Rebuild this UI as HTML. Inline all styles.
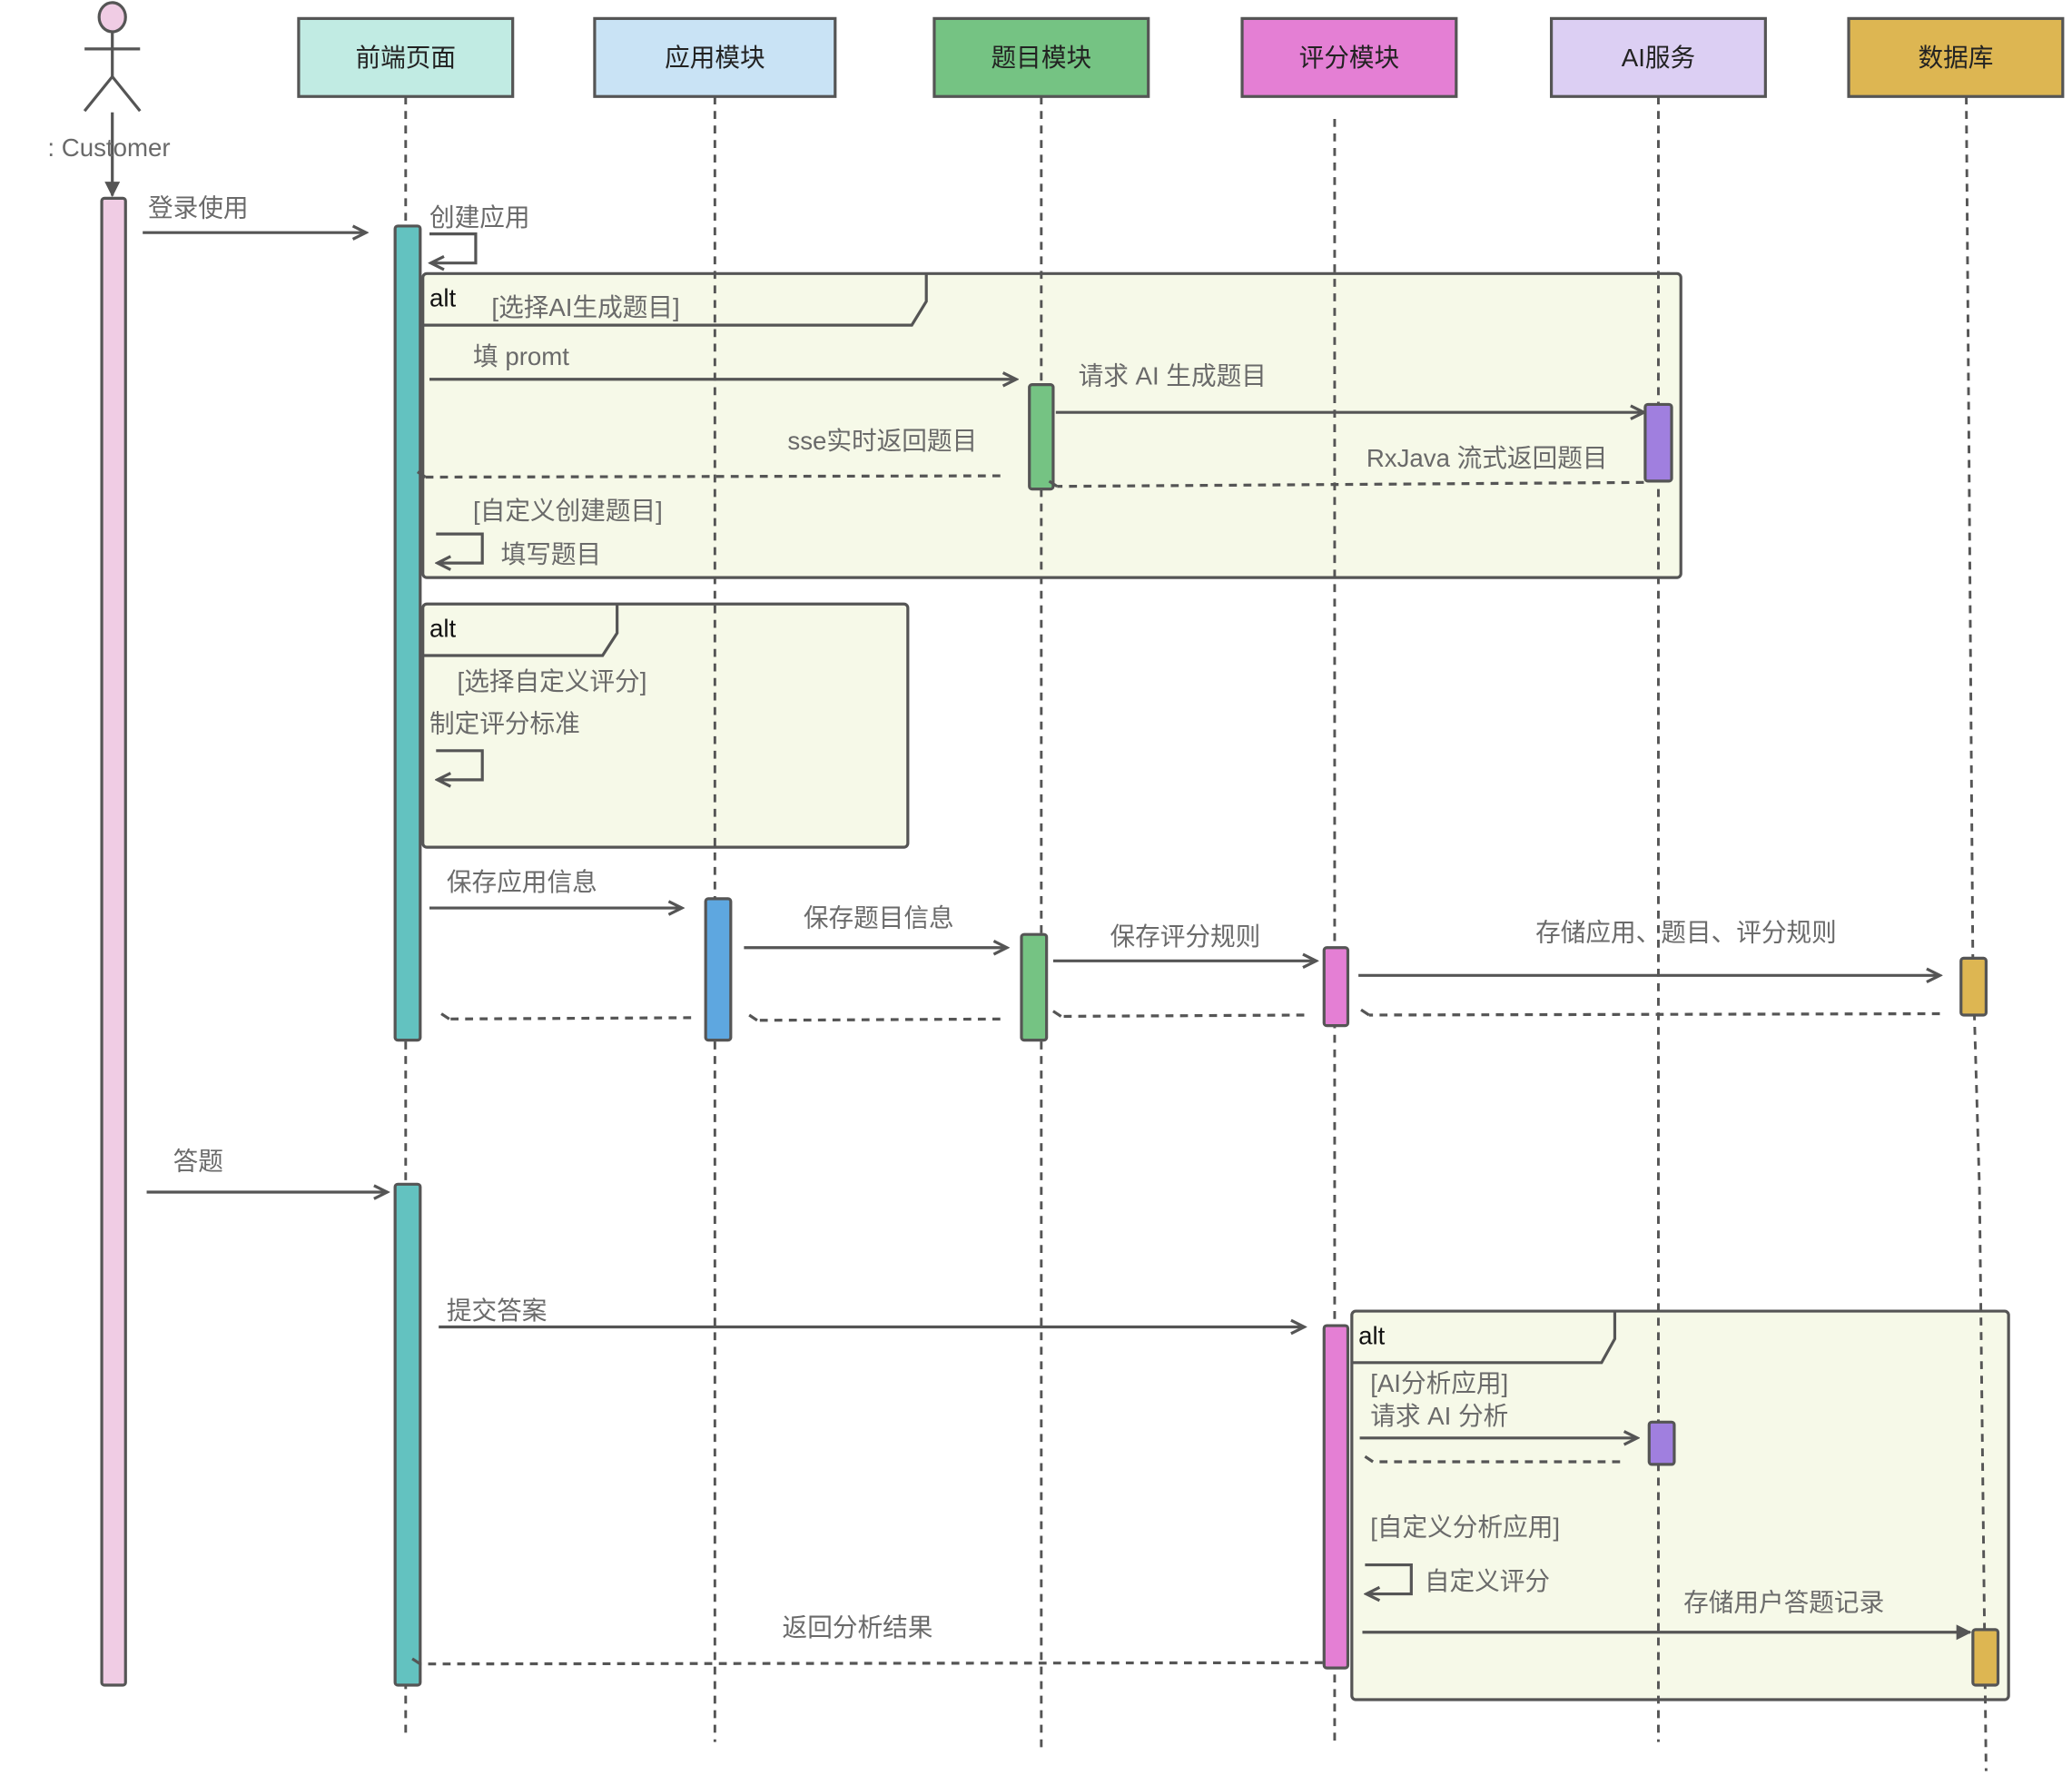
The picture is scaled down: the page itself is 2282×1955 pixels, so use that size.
<!DOCTYPE html>
<html><head><meta charset="utf-8"><style>
html,body{margin:0;padding:0;background:#fff}
svg{display:block}
text{font-family:"Liberation Sans","Noto Sans CJK SC",sans-serif;font-size:19px;fill:#6a6a6a}
.h{fill:#222;font-size:19px}
.a{fill:#111;font-size:19px}
</style></head><body>
<svg width="2282" height="1955" viewBox="0 0 1568 1343" preserveAspectRatio="none" xmlns="http://www.w3.org/2000/svg">
<defs>
<marker id="ar" markerWidth="14" markerHeight="14" refX="12" refY="7" orient="auto" markerUnits="userSpaceOnUse">
<polyline points="2,2 12,7 2,12" fill="none" stroke="#555" stroke-width="2.2"/></marker>
<marker id="ar2" markerWidth="14" markerHeight="14" refX="12" refY="7" orient="auto" markerUnits="userSpaceOnUse">
<polygon points="2,2 12,7 2,12" fill="#555" stroke="#555" stroke-width="1"/></marker>
<marker id="hd" markerWidth="14" markerHeight="14" refX="2" refY="7" orient="auto" markerUnits="userSpaceOnUse">
<polyline points="2,7 8,11" fill="none" stroke="#555" stroke-width="2.2"/></marker>
</defs>
<g stroke="#555" stroke-width="2.2">
<rect x="320" y="207" width="952" height="230" rx="3" fill="#f6f9e8"/>
<polyline points="320,246 690,246 701,228 701,207" fill="none"/>
<rect x="320" y="457" width="367" height="184" rx="3" fill="#f6f9e8"/>
<polyline points="320,496 456,496 467,479 467,457" fill="none"/>
<rect x="1023" y="992" width="497" height="294" rx="3" fill="#f6f9e8"/>
<polyline points="1023,1031 1212,1031 1222,1013 1222,992" fill="none"/>
<g stroke-dasharray="6,5" stroke-width="2">
<line x1="307" y1="73" x2="307" y2="1312"/>
<line x1="541" y1="73" x2="541" y2="1318"/>
<line x1="788" y1="73" x2="788" y2="1322"/>
<line x1="1010" y1="90" x2="1010" y2="1322"/>
<line x1="1255" y1="73" x2="1255" y2="1318"/>
<polyline points="1488,73 1493,730 1498,900 1503,1340" fill="none"/>
</g>
<rect x="226" y="14" width="162" height="59" fill="#c1ebe3"/>
<rect x="450" y="14" width="182" height="59" fill="#c9e3f5"/>
<rect x="707" y="14" width="162" height="59" fill="#75c383"/>
<rect x="940" y="14" width="162" height="59" fill="#e47fd4"/>
<rect x="1174" y="14" width="162" height="59" fill="#dccff3"/>
<rect x="1399" y="14" width="162" height="59" fill="#ddb652"/>
<ellipse cx="85" cy="13" rx="10" ry="11" fill="#f0cce4"/>
<line x1="85" y1="24" x2="85" y2="58"/><line x1="64" y1="37" x2="106" y2="37"/>
<polyline points="64,84 85,58 106,84" fill="none"/>
<line x1="85" y1="85" x2="85" y2="148" marker-end="url(#ar2)"/>
<rect x="77" y="150" width="18" height="1125" rx="2" fill="#f0cce4"/>
<rect x="299" y="171" width="19" height="616" rx="2" fill="#63c2c0"/>
<rect x="299" y="896" width="19" height="379" rx="2" fill="#63c2c0"/>
<rect x="779" y="291" width="18" height="79" rx="2" fill="#75c383"/>
<rect x="773" y="707" width="19" height="80" rx="2" fill="#75c383"/>
<rect x="1245" y="306" width="20" height="58" rx="2" fill="#a07fdf"/>
<rect x="1248" y="1076" width="19" height="32" rx="2" fill="#a07fdf"/>
<rect x="534" y="680" width="19" height="107" rx="2" fill="#5ea7e0"/>
<rect x="1002" y="717" width="18" height="59" rx="2" fill="#e47fd4"/>
<rect x="1002" y="1003" width="18" height="259" rx="2" fill="#e47fd4"/>
<rect x="1484" y="725" width="19" height="43" rx="2" fill="#ddb652"/>
<rect x="1493" y="1233" width="19" height="42" rx="2" fill="#ddb652"/>
<g fill="none">
<line x1="108" y1="176" x2="277" y2="176" marker-end="url(#ar)"/>
<polyline points="325,177 360,177 360,199 326,199" marker-end="url(#ar)"/>
<line x1="325" y1="287" x2="769" y2="287" marker-end="url(#ar)"/>
<line x1="799" y1="312" x2="1244" y2="312" marker-end="url(#ar)"/>
<line x1="1244" y1="365" x2="800" y2="368" stroke-dasharray="6,5" marker-end="url(#hd)"/>
<line x1="757" y1="360" x2="322" y2="361" stroke-dasharray="6,5" marker-end="url(#hd)"/>
<polyline points="330,404 365,404 365,426 331,426" marker-end="url(#ar)"/>
<polyline points="330,568 365,568 365,590 331,590" marker-end="url(#ar)"/>
<line x1="325" y1="687" x2="516" y2="687" marker-end="url(#ar)"/>
<line x1="563" y1="717" x2="762" y2="717" marker-end="url(#ar)"/>
<line x1="797" y1="727" x2="996" y2="727" marker-end="url(#ar)"/>
<line x1="1028" y1="738" x2="1468" y2="738" marker-end="url(#ar)"/>
<line x1="523" y1="770" x2="340" y2="771" stroke-dasharray="6,5" marker-end="url(#hd)"/>
<line x1="757" y1="771" x2="573" y2="772" stroke-dasharray="6,5" marker-end="url(#hd)"/>
<line x1="987" y1="768" x2="803" y2="769" stroke-dasharray="6,5" marker-end="url(#hd)"/>
<line x1="1468" y1="767" x2="1036" y2="768" stroke-dasharray="6,5" marker-end="url(#hd)"/>
<line x1="111" y1="902" x2="293" y2="902" marker-end="url(#ar)"/>
<line x1="332" y1="1004" x2="987" y2="1004" marker-end="url(#ar)"/>
<line x1="1029" y1="1088" x2="1239" y2="1088" marker-end="url(#ar)"/>
<line x1="1226" y1="1106" x2="1039" y2="1106" stroke-dasharray="6,5" marker-end="url(#hd)"/>
<polyline points="1033,1184 1068,1184 1068,1206 1034,1206" marker-end="url(#ar)"/>
<line x1="1031" y1="1235" x2="1491" y2="1235" marker-end="url(#ar2)"/>
<line x1="1001" y1="1258" x2="318" y2="1259" stroke-dasharray="6,5" marker-end="url(#hd)"/>
</g>
</g>
<text class="h" x="307" y="50" text-anchor="middle">前端页面</text>
<text class="h" x="541" y="50" text-anchor="middle">应用模块</text>
<text class="h" x="788" y="50" text-anchor="middle">题目模块</text>
<text class="h" x="1021" y="50" text-anchor="middle">评分模块</text>
<text class="h" x="1255" y="50" text-anchor="middle">AI服务</text>
<text class="h" x="1480" y="50" text-anchor="middle">数据库</text>
<text x="36" y="118">: Customer</text>
<text x="112" y="164">登录使用</text>
<text x="325" y="171">创建应用</text>
<text class="a" x="325" y="232">alt</text>
<text x="372" y="239">[选择AI生成题目]</text>
<text x="358" y="276">填 promt</text>
<text x="816" y="291">请求 AI 生成题目</text>
<text x="1034" y="353">RxJava 流式返回题目</text>
<text x="596" y="340">sse实时返回题目</text>
<text x="358" y="393">[自定义创建题目]</text>
<text x="379" y="426">填写题目</text>
<text class="a" x="325" y="482">alt</text>
<text x="346" y="522">[选择自定义评分]</text>
<text x="325" y="554">制定评分标准</text>
<text x="338" y="674">保存应用信息</text>
<text x="608" y="701">保存题目信息</text>
<text x="840" y="715">保存评分规则</text>
<text x="1162" y="712">存储应用、题目、评分规则</text>
<text x="131" y="885">答题</text>
<text x="338" y="998">提交答案</text>
<text class="a" x="1028" y="1017">alt</text>
<text x="1037" y="1053">[AI分析应用]</text>
<text x="1037" y="1078">请求 AI 分析</text>
<text x="1037" y="1162">[自定义分析应用]</text>
<text x="1078" y="1203">自定义评分</text>
<text x="1274" y="1219">存储用户答题记录</text>
<text x="592" y="1238">返回分析结果</text>
</svg>
</body></html>
